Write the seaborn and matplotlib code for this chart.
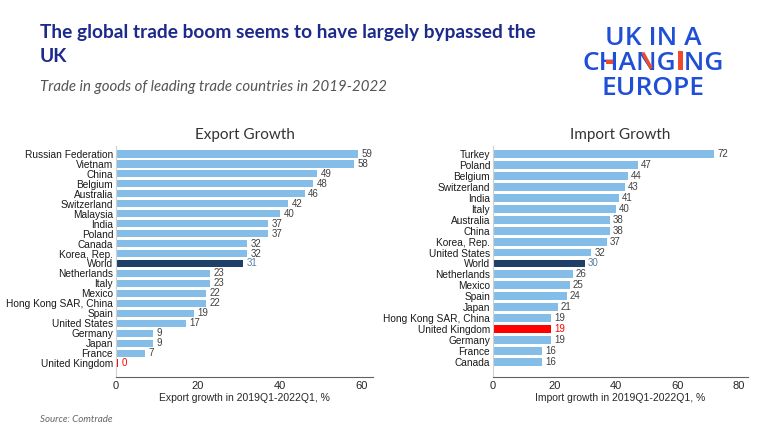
import numpy as np
import pandas as pd
import seaborn as sns
from matplotlib import pyplot as plt
from matplotlib.lines import Line2D
from matplotlib.patches import Rectangle
from matplotlib.font_manager import FontProperties

# export growth 2019Q1-2022Q1, %
export_countries = ['Russian Federation', 'Vietnam', 'China', 'Belgium', 'Australia',
                    'Switzerland', 'Malaysia', 'India', 'Poland', 'Canada', 'Korea, Rep.',
                    'World', 'Netherlands', 'Italy', 'Mexico', 'Hong Kong SAR, China',
                    'Spain', 'United States', 'Germany', 'Japan', 'France', 'United Kingdom']
export_values = [59, 58, 49, 48, 46, 42, 40, 37, 37, 32, 32,
                 31, 23, 23, 22, 22, 19, 17, 9, 9, 7, 0.4]

# import growth 2019Q1-2022Q1, %
import_countries = ['Turkey', 'Poland', 'Belgium', 'Switzerland', 'India', 'Italy',
                    'Australia', 'China', 'Korea, Rep.', 'United States', 'World',
                    'Netherlands', 'Mexico', 'Spain', 'Japan', 'Hong Kong SAR, China',
                    'United Kingdom', 'Germany', 'France', 'Canada']
import_values = [72, 47, 44, 43, 41, 40, 38, 38, 37, 32, 30,
                 26, 25, 24, 21, 19, 19, 19, 16, 16]

export_ticks = [0, 20, 40, 60]
import_ticks = [0, 20, 40, 60, 80]

BAR = '#85bde9'
WORLD = '#1d3f68'
UK = '#ff0000'
LABEL_GREY = '#404040'

sns.set_style('white')
plt.rcParams['font.family'] = ['Liberation Sans', 'DejaVu Sans']


def bar_colors(countries):
    out = []
    for c in countries:
        if c == 'World':
            out.append(WORLD)
        elif c == 'United Kingdom':
            out.append(UK)
        else:
            out.append(BAR)
    return out


def label_color(c):
    if c == 'World':
        return '#5b7fa6'
    if c == 'United Kingdom':
        return UK
    return LABEL_GREY


def growth_panel(ax, countries, values, title, xlabel, ticks, xmax, pad_top, pad_bot):
    df = pd.DataFrame({'country': countries, 'value': values})
    sns.barplot(ax=ax, data=df, x='value', y='country', hue='country',
                palette=bar_colors(countries), legend=False, width=0.72,
                saturation=1, edgecolor='none')
    for i, (c, v) in enumerate(zip(countries, values)):
        ax.text(v + 0.9, i, str(int(round(v))), va='center', ha='left',
                fontsize=7, color=label_color(c))
    ax.set_xlim(0, xmax)
    ax.set_ylim(len(countries) - 1 + pad_bot, -pad_top)
    ax.set_xticks(ticks)
    ax.set_ylabel('')
    ax.set_xlabel(xlabel, fontsize=7.5, color='#262626', labelpad=1)
    ax.tick_params(axis='y', labelsize=7.3, length=0, pad=2, colors='#1a1a1a')
    ax.tick_params(axis='x', labelsize=8, length=3, direction='in', pad=3,
                   colors='#262626')
    for s in ['top', 'right']:
        ax.spines[s].set_visible(False)
    ax.spines['left'].set_color('#d0d0d0')
    ax.spines['left'].set_linewidth(0.8)
    ax.spines['bottom'].set_color('#606060')
    ax.spines['bottom'].set_linewidth(0.8)
    ax.set_title(title, fontsize=11, color='#333333', pad=5,
                 family=['Lato', 'DejaVu Sans'])


fig = plt.figure(figsize=(7.68, 4.32), dpi=100)
fig.patch.set_facecolor('white')

ax1 = fig.add_axes([116 / 768, 1 - 377 / 432, (373 - 116) / 768, (377 - 146) / 432])
ax2 = fig.add_axes([493 / 768, 1 - 377 / 432, (748 - 493) / 768, (377 - 146) / 432])

growth_panel(ax1, export_countries, export_values, 'Export Growth',
             'Export growth in 2019Q1-2022Q1, %', export_ticks, 62.7, 0.8, 1.4)
growth_panel(ax2, import_countries, import_values, 'Import Growth',
             'Import growth in 2019Q1-2022Q1, %', import_ticks, 82.9, 0.73, 1.37)

# headline
head_kw = dict(fontsize=13.8, fontweight='bold', color='#1c2a8c',
               family=['Lato', 'DejaVu Sans'], va='baseline')
fig.text(40 / 768, 1 - 38 / 432, 'The global trade boom seems to have largely bypassed the',
         **head_kw)
fig.text(40 / 768, 1 - 62 / 432, 'UK', **head_kw)
fig.text(40 / 768, 1 - 91 / 432, 'Trade in goods of leading trade countries in 2019-2022',
         fontsize=10.8, style='italic', color='#555555',
         family=['Lato', 'DejaVu Sans'], va='baseline')
fig.text(40 / 768, 1 - 422 / 432, 'Source: Comtrade', fontsize=7, style='italic',
         color='#666666', family=['Lato', 'DejaVu Sans'], va='baseline')

# logo: blue lines of text, red strokes laid over them
LOGO = '#1f4fd6'
LOGO_RED = '#ee4a2c'
W, H = fig.bbox.width, fig.bbox.height
fig.canvas.draw()
r = fig.canvas.get_renderer()


def width_at(s, prop):
    w, h, d = r.get_text_width_height_descent(s, prop, ismath=False)
    return w


prop = FontProperties(family=['Open Sans', 'DejaVu Sans'], weight='semibold', size=20)
fs = 20 * 150 / width_at('CHANGING', prop)
fs = min(fs, 19.0)
prop = FontProperties(family=['Open Sans', 'DejaVu Sans'], weight='semibold', size=fs)
xc = 653.5
base = [45.0, 70.0, 95.0]
for word, b in zip(['UK IN A', 'CHANGING', 'EUROPE'], base):
    fig.text(xc / W, 1 - b / H, word, fontproperties=prop, color=LOGO,
             ha='center', va='baseline')

em = fs * 100 / 72
cap = 0.714 * em
base2 = base[1]
x_line = xc - width_at('CHANGING', prop) / 2
pre = [width_at('CHANGING'[:k], prop) for k in range(9)]
stem = 0.14 * em
sb = 0.09 * em

# I
ix0 = x_line + pre[5]
ix1 = x_line + pre[6]
imid = (ix0 + ix1) / 2
fig.add_artist(Rectangle(((imid - stem / 2 - 0.4) / W, 1 - base2 / H),
                         (stem + 0.8) / W, (cap + 0.5) / H,
                         facecolor=LOGO_RED, edgecolor='none', zorder=10))
# H crossbar
hx0 = x_line + pre[1] + sb + stem
hx1 = x_line + pre[2] - sb - stem
fig.add_artist(Rectangle((hx0 / W, 1 - (base2 - cap * 0.43 + 0.13 * em / 2) / H),
                         (hx1 - hx0) / W, 0.12 * em / H,
                         facecolor=LOGO_RED, edgecolor='none', zorder=10))
# N diagonal
nx0 = x_line + pre[3] + sb + stem
nx1 = x_line + pre[4] - sb - stem
fig.add_artist(Line2D([nx0 / W, nx1 / W],
                      [1 - (base2 - cap + 1.5) / H, 1 - (base2 - 1.5) / H],
                      color=LOGO_RED, lw=2.4, solid_capstyle='butt', zorder=10))

fig.savefig('out.png', dpi=100)
